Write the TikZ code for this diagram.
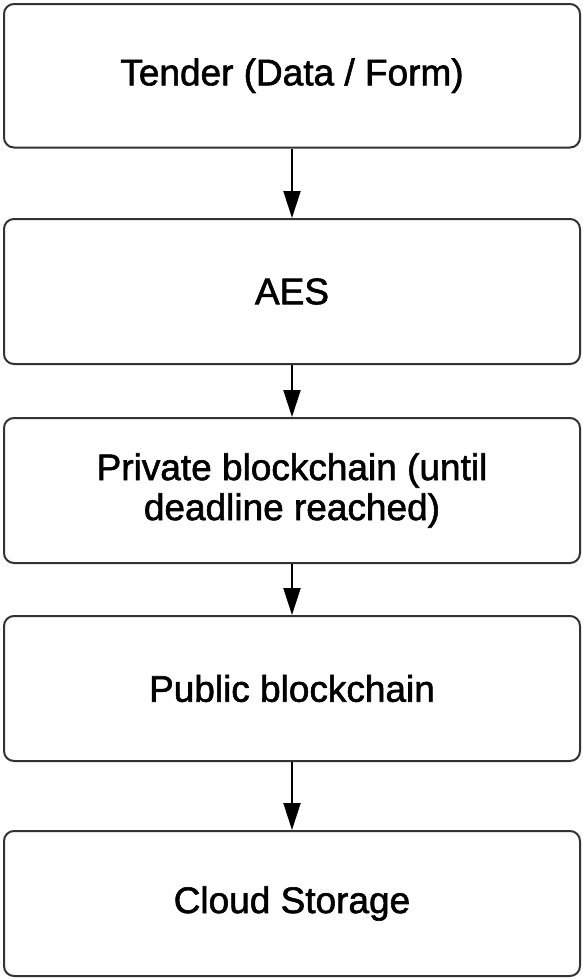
\documentclass[tikz,border=0pt]{standalone}
\usepackage{fontspec}
\setmainfont{Liberation Sans}[BoldFont={Liberation Sans},BoldFeatures={FakeBold=1.6}]
\usetikzlibrary{arrows.meta}
\tikzset{
stagebox/.style={draw=black!80,line width=2pt,rounded corners=10pt,minimum width=576pt,minimum height=145pt,inner sep=0pt,align=center,font=\fontsize{37}{40}\selectfont\bfseries},
flow/.style={-{Triangle[width=17pt,length=27pt]},line width=2pt,black}
}
\begin{document}
\begin{tikzpicture}[x=1pt,y=1pt]
\useasboundingbox (0,0) rectangle (583,-980);
%stages
\node[stagebox,minimum height=143.5pt] (tender) at (292,-75.75) {Tender (Data / Form)};
\node[stagebox] (aes) at (292,-291.5) {AES};
\node[stagebox] (private) at (292,-490.5) {Private blockchain (until\\deadline reached)};
\node[stagebox] (public) at (292,-688.5) {Public blockchain};
\node[stagebox] (cloud) at (292,-903.5) {Cloud Storage};
%arrows
\draw[flow] (tender) -- (aes);
\draw[flow] (aes) -- (private);
\draw[flow] (private) -- (public);
\draw[flow] (public) -- (cloud);
\end{tikzpicture}
\end{document}
